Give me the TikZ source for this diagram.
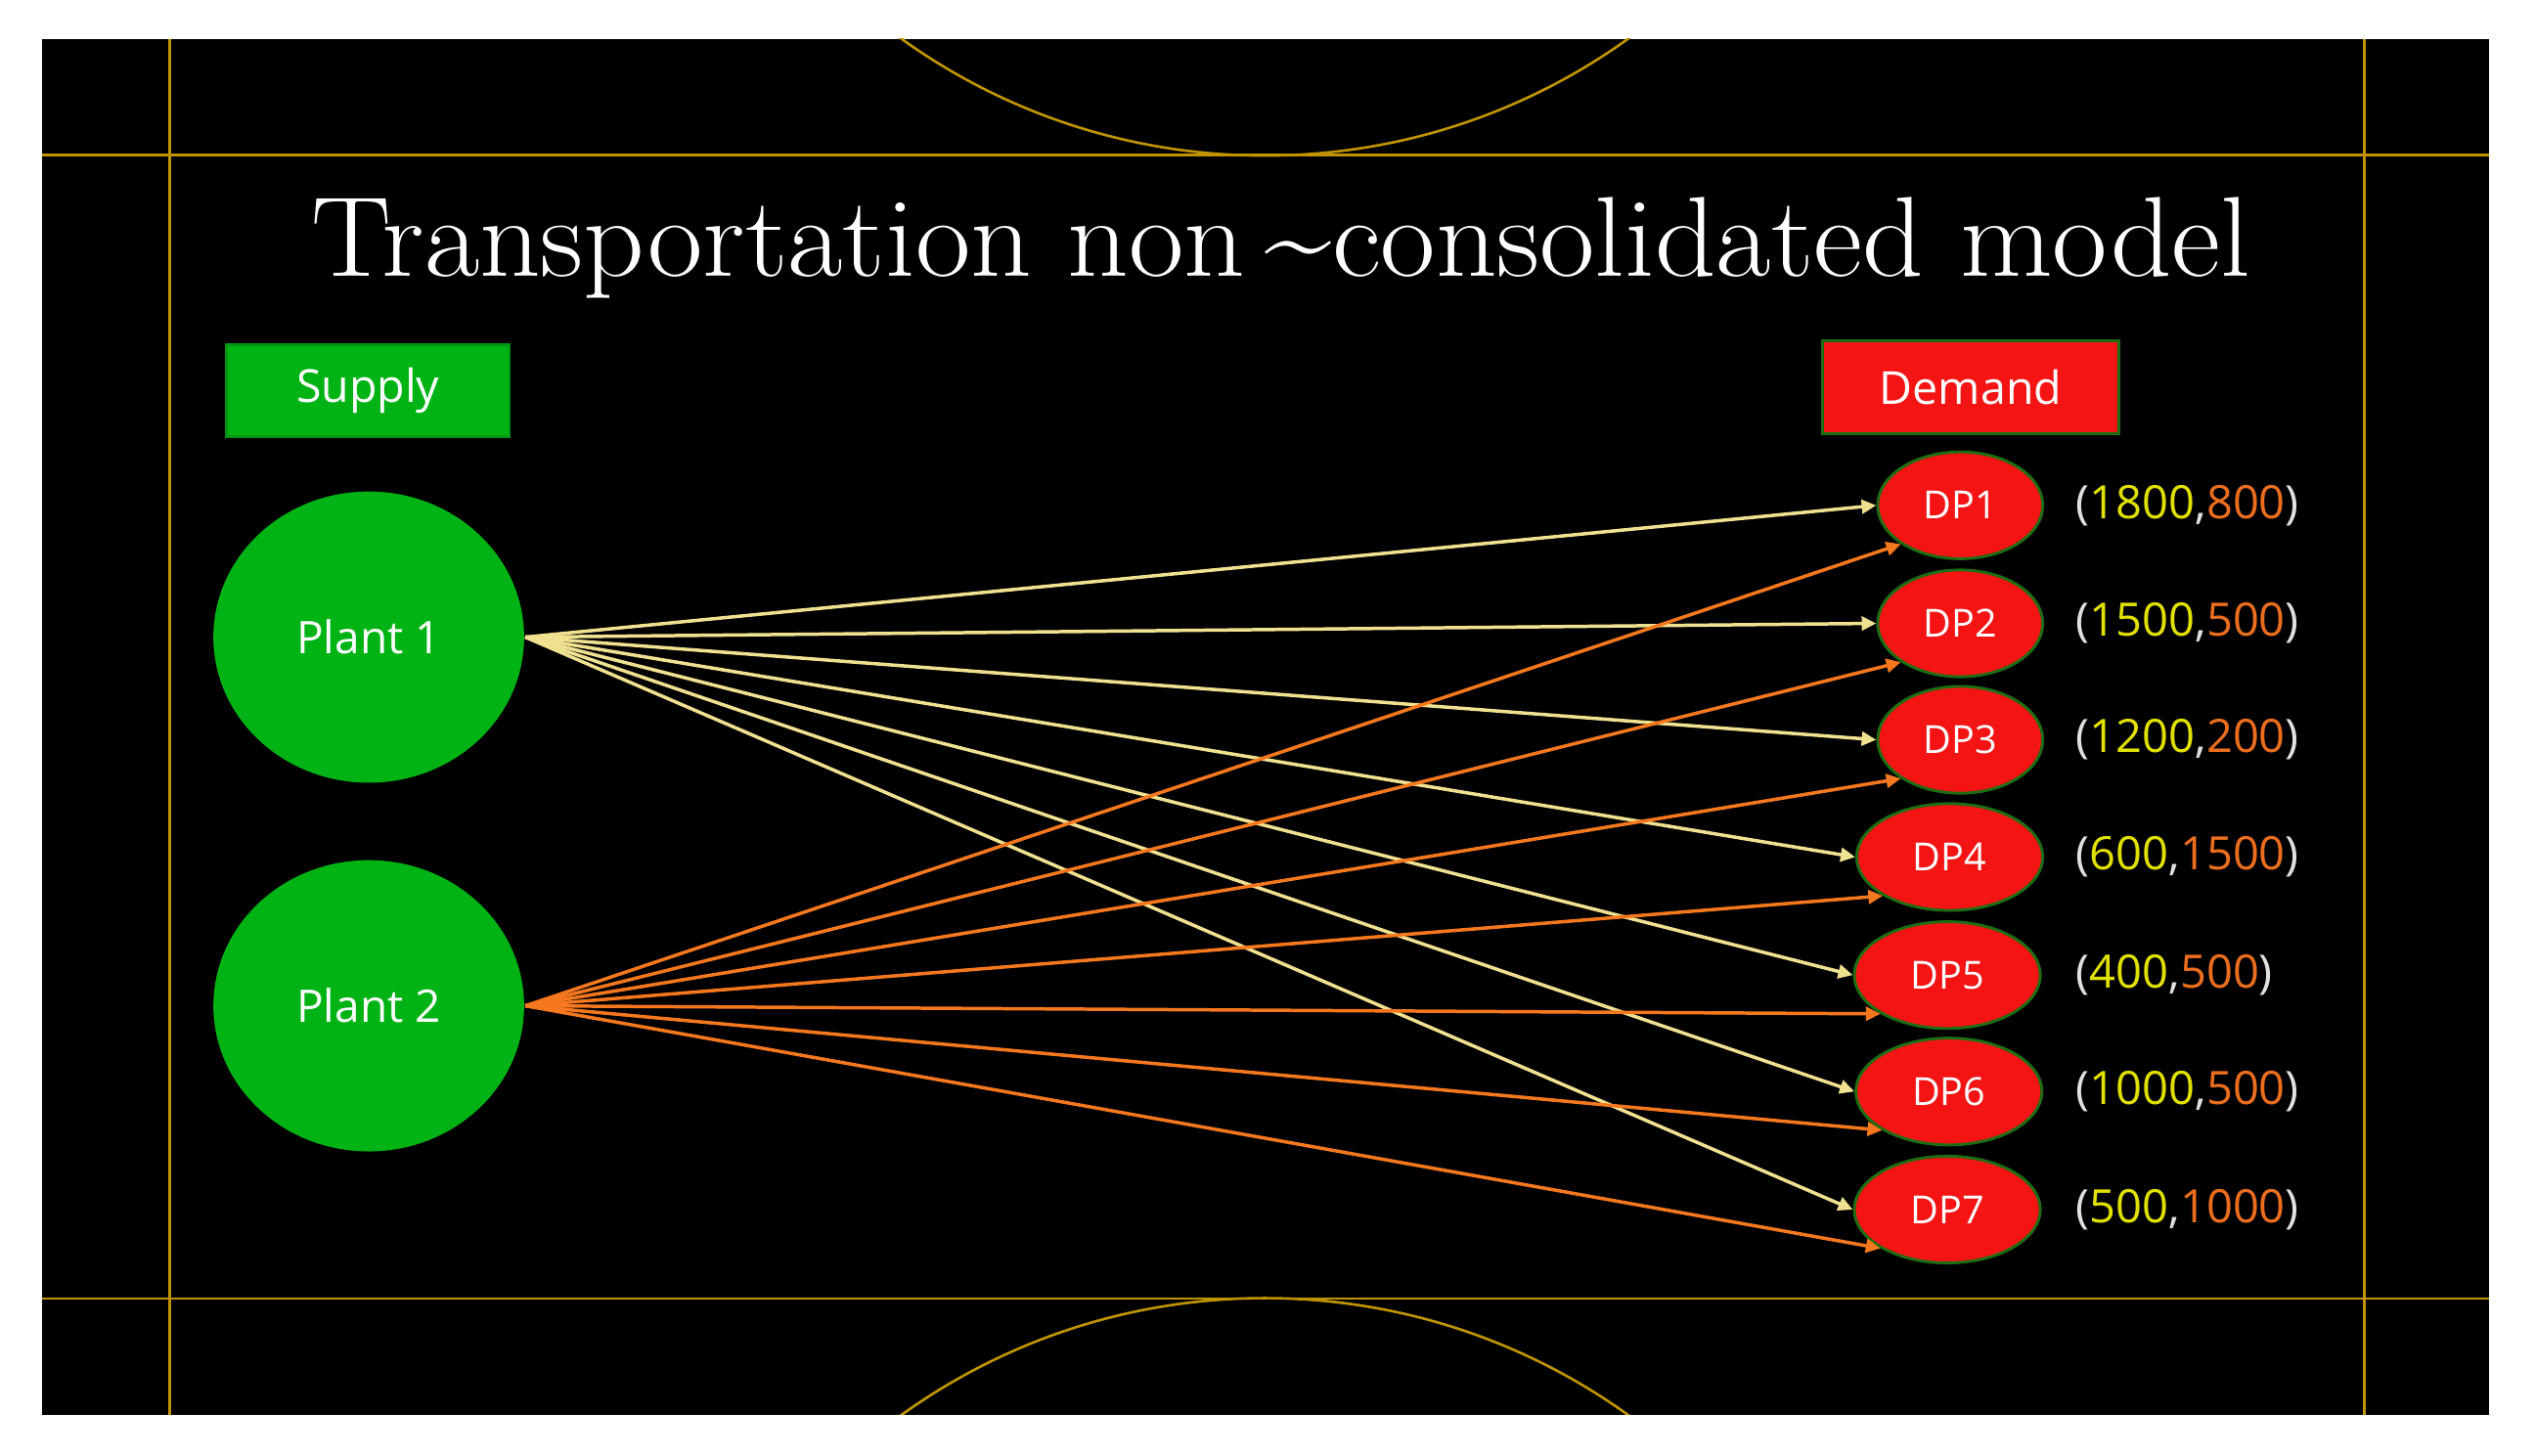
\documentclass[tikz,border=0pt]{standalone}
\usepackage{fontspec}
\newfontfamily\osans{Open Sans}
\usetikzlibrary{shapes.geometric,arrows.meta}
\definecolor{gold}{RGB}{191,148,0}
\definecolor{pgreen}{RGB}{0,179,20}
\definecolor{sgreen}{RGB}{0,150,20}
\definecolor{dred}{RGB}{244,20,20}
\definecolor{bordgreen}{RGB}{30,110,20}
\definecolor{yarrow}{RGB}{240,225,145}
\definecolor{oarrow}{RGB}{245,120,30}
\definecolor{ylab}{RGB}{225,225,0}
\definecolor{olab}{RGB}{235,110,30}
\definecolor{plab}{RGB}{225,225,225}
\begin{document}
\begin{tikzpicture}[x=0.01cm,y=-0.01cm,
  goldline/.style={draw=gold,line width=0.45pt},
  plant/.style={ellipse,fill=pgreen,minimum width=1.92cm,minimum height=1.80cm,inner sep=0pt,text=white,font=\osans\fontsize{7.9}{9}\selectfont},
  dp/.style={ellipse,fill=dred,draw=bordgreen,line width=0.5pt,minimum height=0.66cm,inner sep=0pt,text=white,font=\osans\fontsize{6.8}{8}\selectfont},
  dpa/.style={dp,minimum width=1.02cm},
  dpb/.style={dp,minimum width=1.15cm},
  hdr/.style={rectangle,inner sep=0pt,text=white,font=\osans\fontsize{8}{10}\selectfont,minimum height=0.57cm},
  lab/.style={anchor=west,inner sep=0pt,font=\osans\fontsize{8.1}{9}\selectfont,text=plab},
  yarr/.style={draw=yarrow,line width=0.6pt,-{Triangle[length=0.9mm,width=0.85mm]}},
  oarr/.style={draw=oarrow,line width=0.6pt,-{Triangle[length=0.9mm,width=0.85mm]}}
]
\useasboundingbox (0,0) rectangle (1568,900);
\fill[white] (0,0) rectangle (1568,900);
\fill[black] (26,24) rectangle (1539,875);
\begin{scope}
  \clip (26,24) rectangle (1539,875);
  \draw[goldline] (105,24) -- (105,875);
  \draw[goldline] (1462,24) -- (1462,875);
  \draw[goldline] (26,96) -- (1539,96);
  \draw[goldline] (26,803) -- (1539,803);
  \draw[goldline] (782,-289) circle[radius=3.85cm];
  \draw[goldline] (782,1188) circle[radius=3.85cm];
\end{scope}
\node[anchor=base,text=white,inner sep=0pt,font=\fontsize{20}{22}\selectfont] (title) at (792,171) {\scalebox{1.054}[1]{Transportation non\,\textasciitilde consolidated model}};
\node[hdr,fill=pgreen,draw=sgreen,line width=0.5pt,minimum width=1.75cm] (supply) at (227.5,241.5) {\raisebox{-0.3ex}{Supply}};
\node[hdr,fill=dred,draw=bordgreen,line width=0.5pt,minimum width=1.83cm] (demand) at (1218.5,239.5) {Demand};
\node[plant] (p1) at (228,394) {Plant 1};
\node[plant] (p2) at (228,622) {Plant 2};
\node[dpa] (d1) at (1212,312.5) {DP1};
\node[dpa] (d2) at (1212,385.5) {DP2};
\node[dpa] (d3) at (1212,457.5) {DP3};
\node[dpb] (d4) at (1205.5,530) {DP4};
\node[dpb] (d5) at (1204,603) {DP5};
\node[dpb] (d6) at (1205,675) {DP6};
\node[dpb] (d7) at (1204,748) {DP7};
\node[lab] (l1) at (1283,312.5) {(\textcolor{ylab}{1800},\textcolor{olab}{800})};
\node[lab] (l2) at (1283,385.5) {(\textcolor{ylab}{1500},\textcolor{olab}{500})};
\node[lab] (l3) at (1283,457.5) {(\textcolor{ylab}{1200},\textcolor{olab}{200})};
\node[lab] (l4) at (1283,530) {(\textcolor{ylab}{600},\textcolor{olab}{1500})};
\node[lab] (l5) at (1283,603) {(\textcolor{ylab}{400},\textcolor{olab}{500})};
\node[lab] (l6) at (1283,675) {(\textcolor{ylab}{1000},\textcolor{olab}{500})};
\node[lab] (l7) at (1283,748) {(\textcolor{ylab}{500},\textcolor{olab}{1000})};
\foreach \i in {1,...,7}{
  \draw[yarr] (p1.east) -- (d\i.west);
}
\foreach \i in {1,...,7}{
  \draw[oarr] (p2.east) -- (d\i.south west);
}
\end{tikzpicture}
\end{document}
